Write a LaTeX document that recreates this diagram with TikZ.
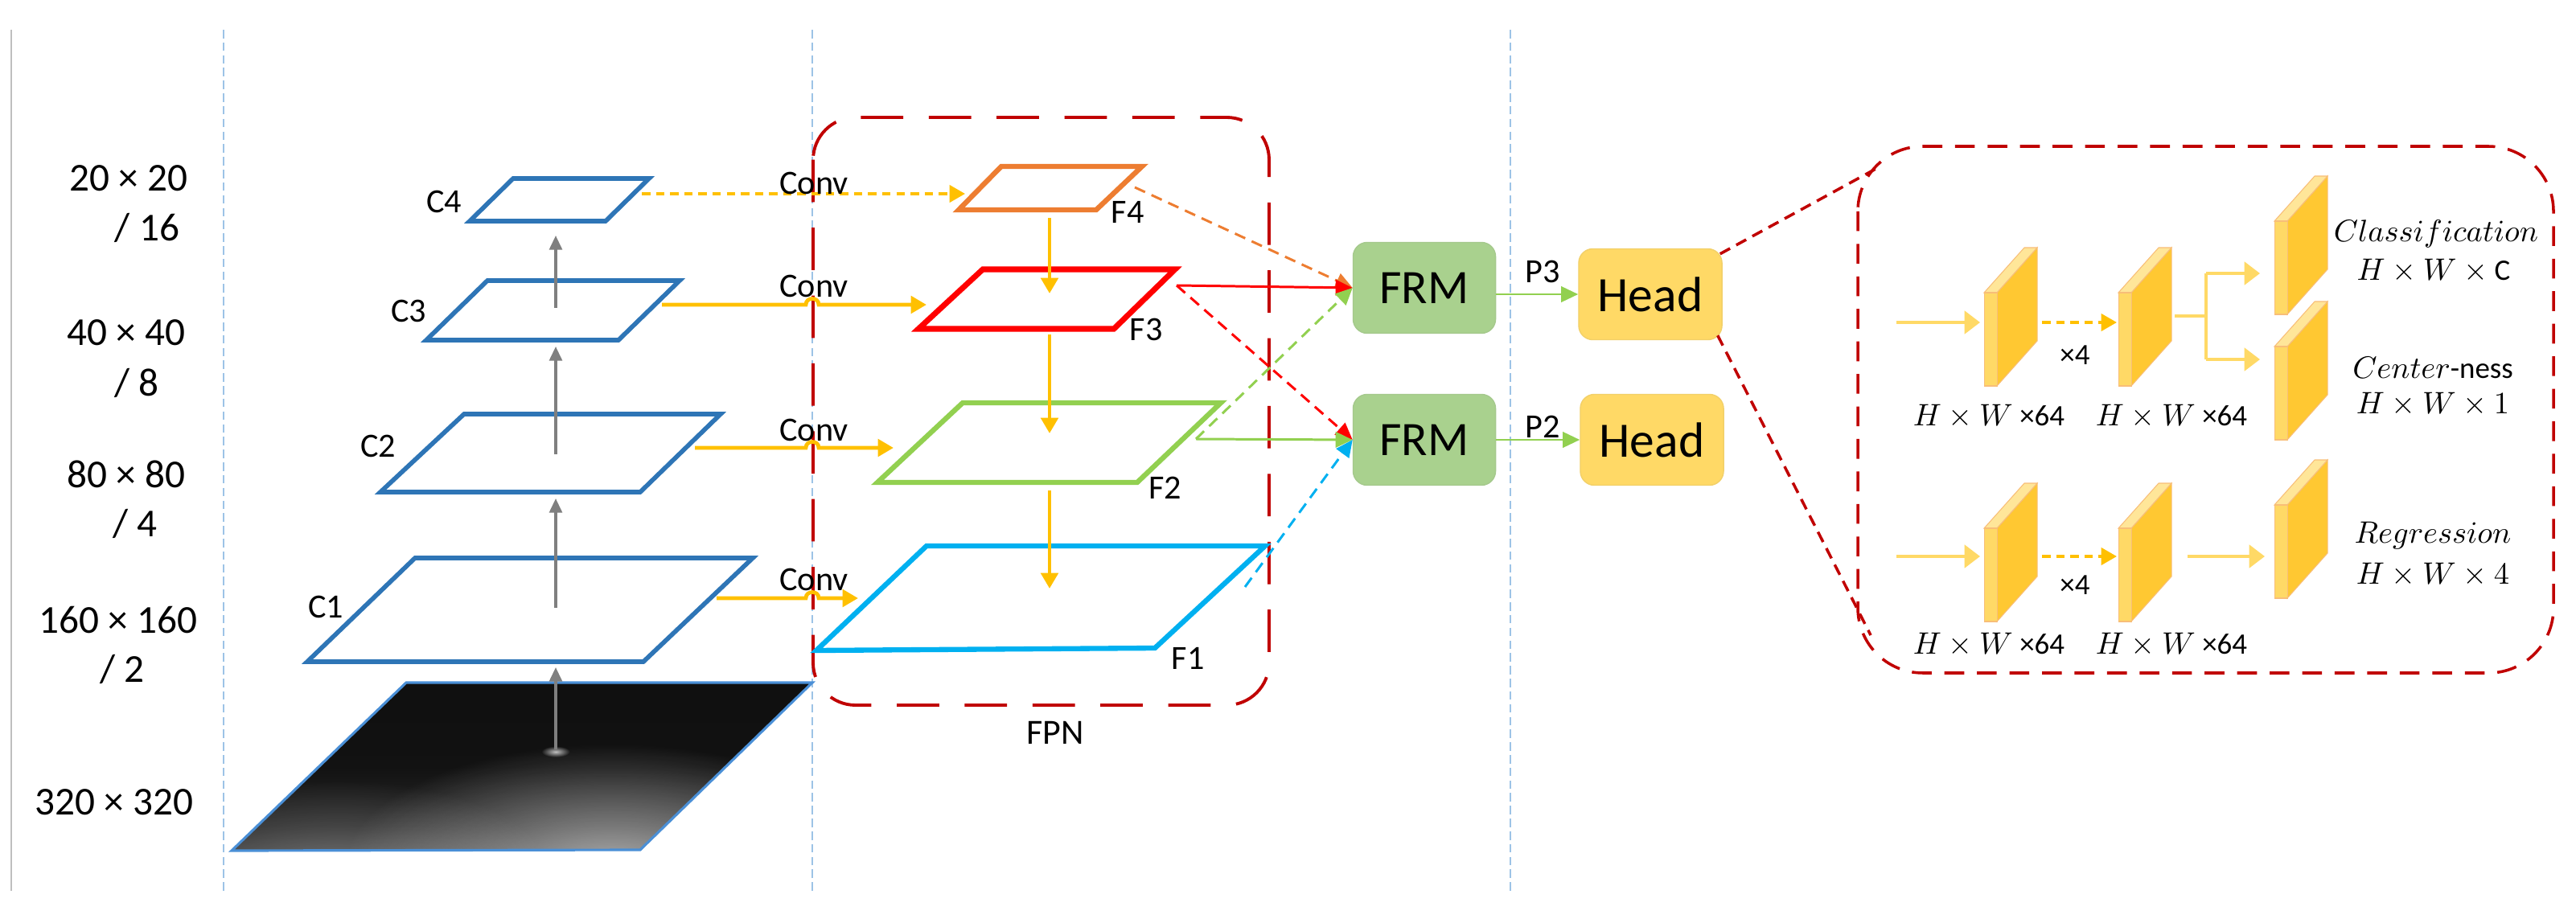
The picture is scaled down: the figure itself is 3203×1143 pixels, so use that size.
\documentclass[tikz,border=0pt]{standalone}
\usepackage{fontspec}
\setmainfont{Carlito}
\usetikzlibrary{arrows.meta,calc,fadings}
\definecolor{cblue}{RGB}{46,117,182}
\definecolor{imgblue}{RGB}{74,143,214}
\definecolor{gry}{RGB}{127,127,127}
\definecolor{yel}{RGB}{255,192,0}
\definecolor{forange}{RGB}{237,125,49}
\definecolor{fred}{RGB}{255,0,0}
\definecolor{fgreen}{RGB}{146,208,80}
\definecolor{fcyan}{RGB}{0,176,240}
\definecolor{frmfill}{RGB}{169,209,142}
\definecolor{headfill}{RGB}{255,217,102}
\definecolor{boxred}{RGB}{192,0,0}
\definecolor{seplb}{RGB}{157,195,230}
\definecolor{leftgray}{RGB}{191,191,191}
\definecolor{slabfront}{RGB}{255,217,102}
\definecolor{slabside}{RGB}{255,200,50}
\definecolor{slabtop}{RGB}{255,230,153}
\definecolor{slabedge}{RGB}{248,190,120}
\definecolor{lightyel}{RGB}{255,217,102}
\pgfdeclareverticalshading{imgsh}{100bp}{color(0bp)=(black!55); color(15bp)=(black!68); color(32bp)=(black!84); color(50bp)=(black!93); color(100bp)=(black!95)}
\tikzfading[name=spotfade, inner color=transparent!0, outer color=transparent!100]
\newcommand{\hslab}[3]{%
  \filldraw[fill=slabside, draw=slabedge, line width=0.3pt] (#2,#3) ++(16,0) -- ++(50,-56) -- ++(0,116) -- ++(-50,56) -- cycle;
  \filldraw[fill=slabtop, draw=slabedge, line width=0.3pt] (#2,#3) -- ++(50,-56) -- ++(16,0) -- ++(-50,56) -- cycle;
  \filldraw[fill=slabfront, draw=slabedge, line width=0.3pt] (#2,#3) rectangle ++(16,116);
  \coordinate (#1) at (#2,#3);
}
\begin{document}
\begin{tikzpicture}[x=0.01cm,y=-0.01cm,
  every node/.style={inner sep=0pt, text=black},
  sizelbl/.style={font=\fontsize{14}{16}\selectfont},
  lbl/.style={font=\fontsize{12}{14}\selectfont},
  sepline/.style={draw=seplb, line width=0.6pt, dash pattern=on 3pt off 1.5pt},
  cplane/.style={draw=cblue, line width=1.6pt},
  fplane/.style={line width=1.8pt},
  garrow/.style={draw=gry, line width=0.9pt, -{Triangle[length=5pt,width=4.5pt]}},
  yarrow/.style={draw=yel, line width=1.35pt, -{Triangle[length=5.5pt,width=6pt]}},
  conn/.style={line width=0.85pt, -{Triangle[length=6pt,width=5.5pt]}},
  dsh/.style={dash pattern=on 4pt off 2.5pt},
  frmbox/.style={fill=frmfill, draw=frmfill!90!gray, rounded corners=5pt, minimum width=1.77cm, minimum height=1.13cm, font=\fontsize{17}{20}\selectfont},
  headbox/.style={fill=headfill, draw=headfill!90!gray, rounded corners=5pt, minimum width=1.78cm, minimum height=1.13cm, font=\fontsize{17.5}{20}\selectfont},
  harrow/.style={draw=lightyel, line width=1.3pt, -{Triangle[length=5.5pt,width=8pt]}},
  hdarrow/.style={draw=yel, line width=1.1pt, dash pattern=on 3pt off 2pt, -{Triangle[length=5.5pt,width=6pt]}},
  mlbl/.style={font=\fontsize{10.5}{12}\selectfont},
  redbox/.style={draw=boxred, line width=1.1pt},
]
\useasboundingbox (0,0) rectangle (3203,1143);

% separators
\draw[draw=leftgray, line width=0.5pt] (14,37) -- (14,1108);
\draw[sepline] (278,37) -- (278,1108);
\draw[sepline] (1010,37) -- (1010,1108);
\draw[sepline] (1878,37) -- (1878,1108);

% size labels
\node[sizelbl] (s20) at (160,222) {20 × 20};
\node[sizelbl] (d16) at (183,283) {/ 16};
\node[sizelbl] (s40) at (157,414) {40 × 40};
\node[sizelbl] (d8) at (170,476) {/ 8};
\node[sizelbl] (s80) at (157,590) {80 × 80};
\node[sizelbl] (d4) at (168,651) {/ 4};
\node[sizelbl] (s160) at (147,771) {160 × 160};
\node[sizelbl] (d2) at (152,832) {/ 2};
\node[sizelbl] (s320) at (142,998) {320 × 320};

% input image
\begin{scope}
\clip (505,849) -- (1010,849) -- (796,1057) -- (288,1058) -- cycle;
\shade[shading=imgsh] (288,849) rectangle (1010,1058);
\fill[white, fill opacity=0.55, path fading=spotfade] (760,1075) ellipse [x radius=330, y radius=150];
\fill[white, fill opacity=0.25, path fading=spotfade] (420,1080) ellipse [x radius=260, y radius=110];
\shade[inner color=white!75!black, outer color=black!93] (691,935) ellipse [x radius=18, y radius=7];
\end{scope}
\draw[draw=imgblue, line width=0.9pt] (505,849) -- (1010,849) -- (796,1057) -- (288,1058) -- cycle;

% backbone planes
\draw[cplane] (638,222) -- (807,222) -- (753,275) -- (584,275) -- cycle;
\draw[cplane] (606,349) -- (845,349) -- (769,423) -- (530,423) -- cycle;
\draw[cplane] (577,515) -- (896,515) -- (796,612) -- (473,612) -- cycle;
\draw[cplane] (516,694) -- (936,694) -- (800,823) -- (382,823) -- cycle;
\node[lbl] (lc4) at (552,251) {C4};
\node[lbl] (lc3) at (508,387) {C3};
\node[lbl] (lc2) at (470,555) {C2};
\node[lbl] (lc1) at (405,755) {C1};

% grey upward arrows
\coordinate (g0s) at (691,932); \coordinate (g0e) at (691,830);
\coordinate (g1s) at (691,756); \coordinate (g1e) at (691,620);
\coordinate (g2s) at (691,565); \coordinate (g2e) at (691,431);
\coordinate (g3s) at (691,383); \coordinate (g3e) at (691,293);
\draw[garrow] (g0s) -- (g0e);
\draw[garrow] (g1s) -- (g1e);
\draw[garrow] (g2s) -- (g2e);
\draw[garrow] (g3s) -- (g3e);

% FPN box
\draw[redbox, dash pattern=on 15pt off 9pt, rounded corners=15pt] (1011,146) rectangle (1578,877);
\node[lbl, font=\fontsize{12.5}{14}\selectfont] (fpn) at (1312,911) {FPN};

% FPN planes
\draw[fplane, draw=forange] (1245,207) -- (1420,207) -- (1363,261) -- (1192,261) -- cycle;
\draw[fplane, draw=fred, line width=2pt] (1222,335) -- (1461,335) -- (1385,409) -- (1142,409) -- cycle;
\draw[fplane, draw=fgreen] (1197,501) -- (1518,501) -- (1414,600) -- (1091,600) -- cycle;
\draw[fplane, draw=fcyan] (1152,679) -- (1573,679) -- (1436,806) -- (1015,809) -- cycle;
\node[lbl] (lf4) at (1402,264) {F4};
\node[lbl] (lf3) at (1425,410) {F3};
\node[lbl] (lf2) at (1449,607) {F2};
\node[lbl] (lf1) at (1477,819) {F1};

% conv arrows
\coordinate (c4s) at (798,241); \coordinate (c4e) at (1200,241);
\coordinate (c3s) at (823,379); \coordinate (c3e) at (1152,379);
\coordinate (c2s) at (864,557); \coordinate (c2e) at (1111,557);
\coordinate (c1s) at (891,744); \coordinate (c1e) at (1067,744);
\draw[yarrow, line width=1.1pt, dash pattern=on 3pt off 2pt] (c4s) -- (c4e);
\draw[yarrow] (c3s) -- (1002,379) .. controls (1002,369) and (1018,369) .. (1018,379) -- (c3e);
\draw[yarrow] (c2s) -- (1002,557) .. controls (1002,547) and (1018,547) .. (1018,557) -- (c2e);
\draw[yarrow] (c1s) -- (1002,744) .. controls (1002,734) and (1018,734) .. (1018,744) -- (c1e);
\node[lbl] (cv4) at (1012,228) {Conv};
\node[lbl] (cv3) at (1012,356) {Conv};
\node[lbl] (cv2) at (1012,535) {Conv};
\node[lbl] (cv1) at (1012,721) {Conv};

% top-down arrows
\coordinate (t1s) at (1305,271); \coordinate (t1e) at (1305,365);
\coordinate (t2s) at (1305,416); \coordinate (t2e) at (1305,539);
\coordinate (t3s) at (1305,610); \coordinate (t3e) at (1305,732);
\draw[yarrow] (t1s) -- (t1e);
\draw[yarrow] (t2s) -- (t2e);
\draw[yarrow] (t3s) -- (t3e);

% FRM and Head
\node[frmbox] (frm1) at (1771,358) {FRM};
\node[frmbox] (frm2) at (1771,547) {FRM};
\node[headbox] (head1) at (2052,366) {Head};
\node[headbox] (head2) at (2054,547) {Head};
\draw[conn, draw=fgreen] (frm1.east |- head1.west) -- (head1.west);
\draw[conn, draw=fgreen] (frm2.east |- head2.west) -- (head2.west);
\node[lbl] (p3) at (1918,338) {P3};
\node[lbl] (p2) at (1918,531) {P2};

% FPN -> FRM
\coordinate (f4o) at (1411,233);
\coordinate (f3o) at (1463,355);
\coordinate (f2o) at (1487,546);
\coordinate (f1o) at (1548,730);
\draw[conn, draw=forange, dsh] (f4o) -- (frm1.west);
\draw[conn, draw=fred, dsh] (f3o) -- (frm2.west);
\draw[conn, draw=fred] (f3o) -- (frm1.west);
\draw[conn, draw=fgreen, dsh] (f2o) -- (frm1.west);
\draw[conn, draw=fgreen] (f2o) -- (frm2.west);
\draw[conn, draw=fcyan, dsh] (f1o) -- (frm2.west);

% head detail box
\draw[redbox, line width=1pt, dash pattern=on 7pt off 4.5pt, rounded corners=23pt] (2310,182) rectangle (3175,837);
\coordinate (hb1) at (2336,208);
\coordinate (hb2) at (2326,790);
\draw[redbox, line width=1pt, dash pattern=on 4pt off 2.5pt] ([shift={(-3,7)}]head1.north east) -- (hb1);
\draw[redbox, line width=1pt, dash pattern=on 4pt off 2.5pt] ([shift={(-6,-6)}]head1.south east) -- (hb2);

% slabs
\hslab{b1}{2467}{364}
\hslab{b2}{2634}{364}
\hslab{b3}{2828}{275}
\hslab{b4}{2828}{431}
\hslab{b5}{2828}{628}
\hslab{b6}{2467}{657}
\hslab{b7}{2634}{657}

% head arrows
\coordinate (ha1) at (2358,401); \coordinate (ha1e) at (2462,401);
\coordinate (hd1) at (2539,401); \coordinate (hd1e) at (2632,401);
\coordinate (br0) at (2704,393); \coordinate (br1) at (2743,393);
\coordinate (bru) at (2743,340); \coordinate (brd) at (2743,447);
\coordinate (brue) at (2810,340); \coordinate (brde) at (2810,447);
\draw[harrow] (ha1) -- (ha1e);
\draw[hdarrow] (hd1) -- (hd1e);
\draw[draw=lightyel, line width=1.3pt] (br0) -- (br1);
\draw[draw=lightyel, line width=1.3pt] (bru) -- (brd);
\draw[harrow] (bru) -- (brue);
\draw[harrow] (brd) -- (brde);
\coordinate (ha2) at (2358,692); \coordinate (ha2e) at (2462,692);
\coordinate (hd2) at (2539,692); \coordinate (hd2e) at (2632,692);
\coordinate (hr2) at (2720,692); \coordinate (hr2e) at (2816,692);
\draw[harrow] (ha2) -- (ha2e);
\draw[hdarrow] (hd2) -- (hd2e);
\draw[harrow] (hr2) -- (hr2e);

\node[mlbl] (x4a) at (2580,442) {×4};
\node[mlbl] (x4b) at (2580,728) {×4};
\node[mlbl] (m1) at (2473,518) {$H\times W$ ×64};
\node[mlbl] (m2) at (2700,518) {$H\times W$ ×64};
\node[mlbl] (m3) at (2473,802) {$H\times W$ ×64};
\node[mlbl] (m4) at (2700,802) {$H\times W$ ×64};
\node[mlbl] (cls) at (3029,291) {$Classification$};
\node[mlbl] (clsd) at (3026,337) {$H\times W\times{}$C};
\node[mlbl] (ctr) at (3025,457) {$Center$-ness};
\node[mlbl] (ctrd) at (3025,503) {$H\times W\times 1$};
\node[mlbl] (reg) at (3025,666) {$Regression$};
\node[mlbl] (regd) at (3025,715) {$H\times W\times 4$};
\end{tikzpicture}
\end{document}
